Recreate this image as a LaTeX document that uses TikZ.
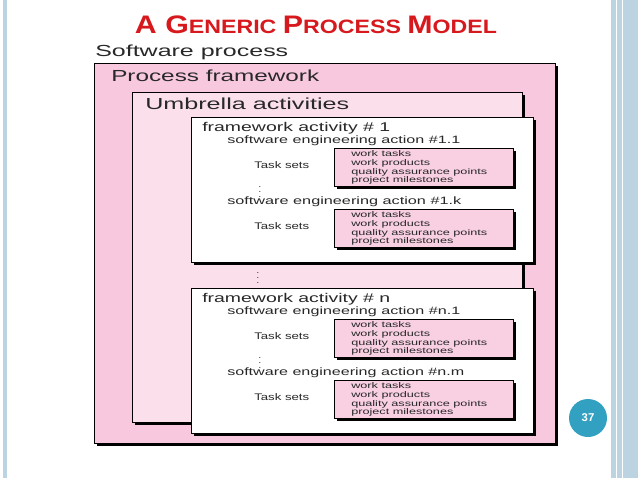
\documentclass[tikz,border=0pt]{standalone}
\usepackage{fontspec}
\setmainfont{Liberation Sans}
\usetikzlibrary{shadows}
\definecolor{pinkA}{RGB}{248,200,222}
\definecolor{pinkB}{RGB}{251,224,236}
\definecolor{pinkC}{RGB}{248,208,226}
\definecolor{titred}{RGB}{215,25,30}
\definecolor{band}{RGB}{188,212,226}
\definecolor{circ}{RGB}{50,160,192}
\definecolor{txt}{RGB}{40,40,40}
\newcommand{\fitw}[2]{\resizebox{#1\dimexpr 0.75pt\relax}{\height}{#2}}
\begin{document}
\begin{tikzpicture}[x=0.75pt,y=-0.75pt,
  box/.style={draw=black,line width=0.5pt,anchor=north west,inner sep=0pt,
    drop shadow={shadow xshift=2.2pt,shadow yshift=-2.2pt,fill=black,opacity=1}},
  lbl/.style={anchor=west,inner sep=0pt,text=txt},
  list/.style={anchor=north west,inner sep=0pt,text=txt,font=\fontsize{6.2}{6.6}\selectfont},
  dots/.style={inner sep=0pt,text=txt,font=\fontsize{7}{7}\selectfont}]
\useasboundingbox (0,0) rectangle (638,478);
\fill[white] (0,0) rectangle (638,478);
\fill[band] (3,0) rectangle (7,478);
\fill[band] (611,0) rectangle (638,478);
\draw[white,line width=0.6pt] (616,0) -- (616,478) (622,0) -- (622,478);
% title
\node[text=titred,font=\bfseries] (title) at (316,25)
  {\fitw{362}{\fontsize{19}{19}\selectfont A G\fontsize{14.5}{14}\selectfont ENERIC \fontsize{19}{19}\selectfont P\fontsize{14.5}{14}\selectfont ROCESS \fontsize{19}{19}\selectfont M\fontsize{14.5}{14}\selectfont ODEL}};
% boxes
\node[lbl,font=\fontsize{12}{12}\selectfont] (sp) at (95,52) {\fitw{193}{Software process}};
\node[box,fill=pinkA,minimum width=461*0.75pt,minimum height=380*0.75pt] (outer) at (94,63) {};
\node[lbl,font=\fontsize{12}{12}\selectfont] (pf) at (111,76) {\fitw{208}{Process framework}};
\node[box,fill=pinkB,minimum width=390*0.75pt,minimum height=330*0.75pt] (umb) at (132,92) {};
\node[lbl,font=\fontsize{12}{12}\selectfont] (ua) at (145,104) {\fitw{204}{Umbrella activities}};
\node[dots] (ud) at (258,274) {$\vdots$};
\foreach \n/\y/\a/\b/\c/\w in {a1/117/1/1.1/1.k/234, an/288/n/n.1/n.m/237}{
  \node[box,fill=white,minimum width=342*0.75pt,minimum height=145*0.75pt] (\n) at (191,\y) {};
  \node[lbl,font=\fontsize{9.5}{9}\selectfont] (\n t) at (202,\y+11) {\fitw{188}{framework activity \# \a}};
  \node[lbl,font=\fontsize{8}{8}\selectfont] (\n s1) at (227,\y+24) {\fitw{233}{software engineering action \#\b}};
  \node[lbl,font=\fontsize{7.2}{8}\selectfont] (\n ts1) at (254,\y+48) {\fitw{55}{Task sets}};
  \node[box,fill=pinkC,minimum width=179*0.75pt,minimum height=38*0.75pt] (\n b1) at (334,\y+31) {};
  \node[list] (\n l1) at (351,\y+33) {\fitw{136}{\begin{tabular}{@{}l@{}}work tasks\\work products\\quality assurance points\\project milestones\end{tabular}}};
  \node[dots] (\n d) at (260,\y+71) {$\vdots$};
  \node[lbl,font=\fontsize{8}{8}\selectfont] (\n s2) at (227,\y+85) {\fitw{\w}{software engineering action \#\c}};
  \node[lbl,font=\fontsize{7.2}{8}\selectfont] (\n ts2) at (254,\y+109) {\fitw{55}{Task sets}};
  \node[box,fill=pinkC,minimum width=179*0.75pt,minimum height=38*0.75pt] (\n b2) at (334,\y+92) {};
  \node[list] (\n l2) at (351,\y+94) {\fitw{136}{\begin{tabular}{@{}l@{}}work tasks\\work products\\quality assurance points\\project milestones\end{tabular}}};
}
\node[circle,fill=circ,minimum size=38*0.75pt,inner sep=0pt,text=white,font=\bfseries\fontsize{8.5}{9}\selectfont] (pg) at (588,418) {37};
\end{tikzpicture}
\end{document}
